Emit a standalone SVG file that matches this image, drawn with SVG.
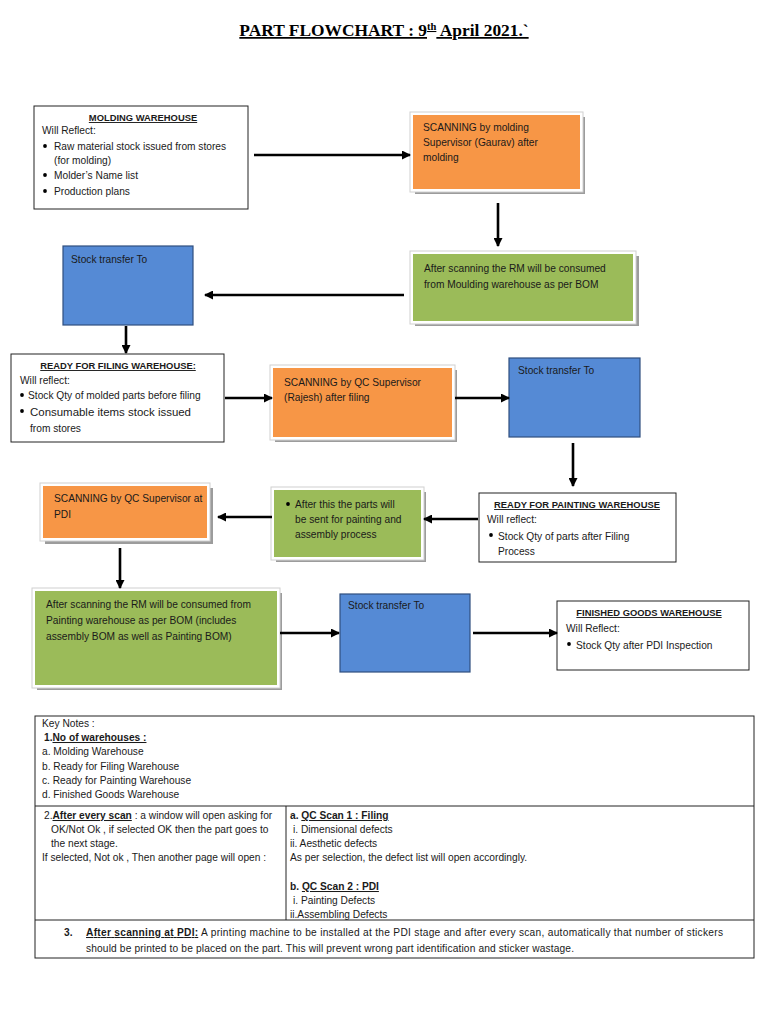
<svg xmlns="http://www.w3.org/2000/svg" width="768" height="1024" viewBox="0 0 768 1024">
<defs>
<marker id="ah" markerWidth="9" markerHeight="9" refX="8" refY="4.5" orient="auto" markerUnits="userSpaceOnUse">
<path d="M0,0 L9,4.5 L0,9 Z" fill="#000"/>
</marker>
</defs>
<style>
text{font-family:"Liberation Sans",Arial,sans-serif;font-size:10.2px;fill:#1a1a1a}
.t{font-family:"Liberation Serif","Times New Roman",serif;font-size:17.4px;font-weight:bold;text-decoration:underline;fill:#000}
.h{font-weight:bold;text-decoration:underline;font-size:9.4px}
.b{font-weight:bold}
.u{text-decoration:underline}
.wb{fill:#fff;stroke:#222;stroke-width:1}
.sh{fill:#5a5a5a;opacity:0.6}
.fr{fill:#fff;stroke:#d0d0d0;stroke-width:1}
.or{fill:#F79646}
.gr{fill:#9BBB59}
.bl{fill:#558AD5;stroke:#2F4F7F;stroke-width:1.2}
.c line{stroke:#000;stroke-width:2.6;marker-end:url(#ah)}
.tb{fill:none;stroke:#222;stroke-width:1}
</style>

<text class="t" x="384" y="36" text-anchor="middle">PART FLOWCHART : 9<tspan font-size="10.5" dy="-6">th</tspan><tspan dy="6"> April 2021.`</tspan></text>

<g id="molding-warehouse">
<rect class="wb" x="34" y="106" width="214" height="103"/>
<text class="h" x="143" y="121" text-anchor="middle">MOLDING WAREHOUSE</text>
<text x="42" y="134">Will Reflect:</text>
<circle cx="45" cy="146" r="1.9" fill="#000"/>
<text x="54" y="150">Raw material stock issued from stores</text>
<text x="54" y="164">(for molding)</text>
<circle cx="45" cy="175" r="1.9" fill="#000"/>
<text x="54" y="179">Molder’s Name list</text>
<circle cx="45" cy="191" r="1.9" fill="#000"/>
<text x="54" y="195">Production plans</text>
</g>

<g id="scan-molding">
<rect class="sh" x="415" y="117" width="170" height="77"/>
<rect class="fr" x="410" y="112" width="173" height="80"/>
<rect class="or" x="413" y="115" width="167" height="74"/>
<text x="423" y="131">SCANNING by molding</text>
<text x="423" y="146">Supervisor (Gaurav) after</text>
<text x="423" y="161">molding</text>
</g>

<g id="consume-moulding">
<rect class="sh" x="415" y="256" width="224" height="70"/>
<rect class="fr" x="410" y="251" width="226" height="73"/>
<rect class="gr" x="413" y="254" width="220" height="67"/>
<text x="424" y="272">After scanning the RM will be consumed</text>
<text x="424" y="288">from Moulding warehouse as per BOM</text>
</g>

<g id="stock-transfer-1">
<rect class="bl" x="63" y="246" width="130" height="79"/>
<text x="71" y="263">Stock transfer To</text>
</g>

<g id="ready-filing">
<rect class="wb" x="11" y="354" width="213" height="88"/>
<text class="h" x="118" y="369" text-anchor="middle">READY FOR FILING WAREHOUSE:</text>
<text x="20" y="384">Will reflect:</text>
<circle cx="22" cy="395" r="1.9" fill="#000"/>
<text x="28" y="399">Stock Qty of molded parts before filing</text>
<circle cx="22" cy="411" r="1.9" fill="#000"/>
<text x="30" y="416" font-size="12.5" textLength="161" lengthAdjust="spacingAndGlyphs">Consumable items stock issued</text>
<text x="30" y="432" font-size="12.5">from stores</text>
</g>

<g id="scan-filing">
<rect class="sh" x="275" y="370" width="182" height="72"/>
<rect class="fr" x="270" y="365" width="185" height="75"/>
<rect class="or" x="273" y="368" width="179" height="69"/>
<text x="284" y="386">SCANNING by QC Supervisor</text>
<text x="284" y="401">(Rajesh) after filing</text>
</g>

<g id="stock-transfer-2">
<rect class="bl" x="509" y="358" width="131" height="79"/>
<text x="518" y="374">Stock transfer To</text>
</g>

<g id="ready-painting">
<rect class="wb" x="479" y="493" width="197" height="69"/>
<text class="h" x="577" y="508" text-anchor="middle">READY FOR PAINTING WAREHOUSE</text>
<text x="487" y="523">Will reflect:</text>
<circle cx="491" cy="535" r="1.9" fill="#000"/>
<text x="498" y="540">Stock Qty of parts after Filing</text>
<text x="498" y="555">Process</text>
</g>

<g id="painting-process">
<rect class="sh" x="276" y="492" width="150" height="70"/>
<rect class="fr" x="271" y="487" width="153" height="73"/>
<rect class="gr" x="274" y="490" width="147" height="67"/>
<circle cx="288" cy="504" r="1.9" fill="#000"/>
<text x="295" y="508">After this the parts will</text>
<text x="295" y="523">be sent for painting and</text>
<text x="295" y="538">assembly process</text>
</g>

<g id="scan-pdi">
<rect class="sh" x="45" y="488" width="168" height="56"/>
<rect class="fr" x="40" y="483" width="170" height="58"/>
<rect class="or" x="43" y="486" width="164" height="52"/>
<text x="54" y="502">SCANNING by QC Supervisor at</text>
<text x="54" y="518">PDI</text>
</g>

<g id="consume-painting">
<rect class="sh" x="37" y="593" width="245" height="97"/>
<rect class="fr" x="32" y="588" width="248" height="100"/>
<rect class="gr" x="35" y="591" width="242" height="94"/>
<text x="46" y="608">After scanning the RM will be consumed from</text>
<text x="46" y="624">Painting warehouse as per BOM (includes</text>
<text x="46" y="640">assembly BOM as well as Painting BOM)</text>
</g>

<g id="stock-transfer-3">
<rect class="bl" x="340" y="594" width="130" height="78"/>
<text x="348" y="609">Stock transfer To</text>
</g>

<g id="finished-goods">
<rect class="wb" x="557" y="601" width="192" height="69"/>
<text class="h" x="649" y="616" text-anchor="middle">FINISHED GOODS WAREHOUSE</text>
<text x="566" y="632">Will Reflect:</text>
<circle cx="569" cy="644" r="1.9" fill="#000"/>
<text x="576" y="649">Stock Qty after PDI Inspection</text>
</g>

<g id="connectors" class="c">
<line x1="254" y1="155" x2="410" y2="155"/>
<line x1="498" y1="203" x2="498" y2="246"/>
<line x1="404" y1="295" x2="205" y2="295"/>
<line x1="126" y1="326" x2="126" y2="353"/>
<line x1="225" y1="398" x2="272" y2="398"/>
<line x1="455" y1="398" x2="509" y2="398"/>
<line x1="573" y1="443" x2="573" y2="486"/>
<line x1="478" y1="519" x2="424" y2="519"/>
<line x1="272" y1="517" x2="218" y2="517"/>
<line x1="120" y1="548" x2="120" y2="588"/>
<line x1="280" y1="633" x2="339" y2="633"/>
<line x1="473" y1="633" x2="557" y2="633"/>
</g>

<g id="key-notes">
<rect class="tb" x="35" y="716" width="719" height="242"/>
<line class="tb" x1="35" y1="806" x2="754" y2="806"/>
<line class="tb" x1="35" y1="920" x2="754" y2="920"/>
<line class="tb" x1="286" y1="806" x2="286" y2="920"/>
<text x="42" y="727">Key Notes :</text>
<text x="44" y="741"><tspan class="b">1.</tspan><tspan class="b u">No  of warehouses :</tspan></text>
<text x="42" y="755">a. Molding Warehouse</text>
<text x="42" y="770">b. Ready for Filing Warehouse</text>
<text x="42" y="784">c. Ready for Painting Warehouse</text>
<text x="42" y="798">d. Finished Goods Warehouse</text>
<text x="44" y="819">2.<tspan class="b u">After every scan</tspan> : a window will open asking for</text>
<text x="51" y="833">OK/Not Ok , if selected OK then the part goes to</text>
<text x="51" y="847">the next stage.</text>
<text x="42" y="861">If selected, Not ok , Then another page will open  :</text>
<text x="290" y="819"><tspan class="b">a. </tspan><tspan class="b u">QC Scan 1 : Filing</tspan></text>
<text x="293" y="833">i. Dimensional defects</text>
<text x="290" y="847">ii. Aesthetic defects</text>
<text x="290" y="861">As per selection, the defect list will open accordingly.</text>
<text x="290" y="890"><tspan class="b">b. </tspan><tspan class="b u">QC Scan 2 : PDI</tspan></text>
<text x="293" y="904">i. Painting Defects</text>
<text x="290" y="918">ii.Assembling Defects</text>
<text class="b" x="64" y="936">3.</text>
<text x="86" y="936" textLength="637" lengthAdjust="spacing"><tspan class="b u">After scanning at PDI:</tspan>  A printing machine to be installed at the PDI stage and after every scan, automatically that number of stickers</text>
<text x="86" y="952" textLength="488" lengthAdjust="spacing">should be printed to be placed on the part. This will prevent wrong part identification and sticker wastage.</text>
</g>
</svg>
